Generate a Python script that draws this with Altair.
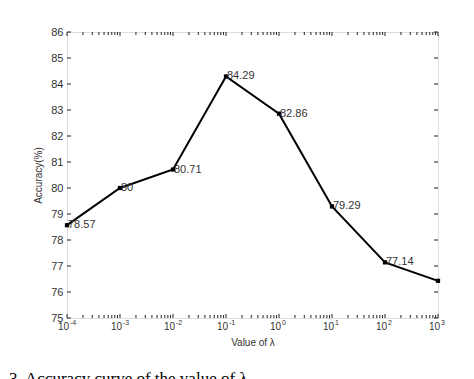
import altair as alt
import pandas as pd

lam = [1e-4, 1e-3, 1e-2, 1e-1, 1e0, 1e1, 1e2, 1e3]
acc = [78.57, 80.0, 80.71, 84.29, 82.86, 79.29, 77.14, 76.43]
point_labels = ["78.57", "80", "80.71", "84.29", "82.86", "79.29", "77.14", ""]
exponents = ["-4", "-3", "-2", "-1", "0", "1", "2", "3"]
y_ticks = list(range(75, 87))
mantissas = [2, 3, 4, 5, 6, 7, 8, 9]

W, H = 371, 286
FONT = "Liberation Sans"
GRAY = "#333333"

df = pd.DataFrame({"lam": lam, "acc": acc, "lab": point_labels})
major = pd.DataFrame({"t": lam, "e": exponents})
minor = pd.DataFrame({"t": [m * d for d in lam[:-1] for m in mantissas]})
yt = pd.DataFrame({"v": y_ticks})

xs = alt.Scale(type="log", domain=[1e-4, 1e3], nice=False)
ys = alt.Scale(domain=[75, 86], nice=False, zero=False)

XAX = alt.Axis(labels=False, ticks=False, domain=False, grid=False,
               title="Value of λ", titlePadding=19, titleFont=FONT,
               titleFontSize=10, titleFontWeight="normal", titleColor=GRAY)
YAX = alt.Axis(values=y_ticks, ticks=False, domain=False, grid=False,
               labelOverlap=False, labelPadding=4, labelFont=FONT,
               labelFontSize=11, labelColor=GRAY,
               title="Accuracy(%)", titlePadding=7, titleFont=FONT,
               titleFontSize=10, titleFontWeight="normal", titleColor=GRAY)


def X(f):
    return alt.X(f, scale=xs, axis=XAX)


def Y(f):
    return alt.Y(f, scale=ys, axis=YAX)


line = alt.Chart(df).mark_line(color="black", strokeWidth=2).encode(
    x=X("lam:Q"), y=Y("acc:Q"))
pts = alt.Chart(df).mark_square(size=18, color="black", opacity=1).encode(
    x=X("lam:Q"), y=Y("acc:Q"))
txt = alt.Chart(df).mark_text(align="left", baseline="middle", dx=1, font=FONT,
                              fontSize=11, color=GRAY).encode(
    x=X("lam:Q"), y=Y("acc:Q"), text="lab:N")


# inward ticks
def xrule(data, y1, y2):
    return alt.Chart(data).mark_rule(color="#222", strokeWidth=1).encode(
        x=X("t:Q"), y=alt.value(y1), y2=alt.value(y2))


def yrule(x1, x2):
    return alt.Chart(yt).mark_rule(color="#222", strokeWidth=1).encode(
        y=Y("v:Q"), x=alt.value(x1), x2=alt.value(x2))


bot_major = xrule(major, H, H - 4)
top_major = xrule(major, 0, 4)
bot_minor = xrule(minor, H, H - 3)
top_minor = xrule(minor, 0, 3)
left_t = yrule(0, 4)
right_t = yrule(W, W - 4)

# x tick labels 10^k
base_lab = alt.Chart(major).mark_text(align="right", baseline="top", dx=2, font=FONT,
                                      fontSize=10, color=GRAY).encode(
    x=X("t:Q"), y=alt.value(H + 4), text=alt.value("10"))
exp_lab = alt.Chart(major).mark_text(align="left", baseline="top", dx=3, font=FONT,
                                     fontSize=7, color=GRAY).encode(
    x=X("t:Q"), y=alt.value(H + 1), text="e:N")

caption = alt.Chart(df.head(1)).mark_text(align="left", baseline="alphabetic",
                                          font="Liberation Serif", fontSize=17,
                                          color="black").encode(
    x=alt.value(-58), y=alt.value(352),
    text=alt.value("3.  Accuracy  curve  of  the value of λ"))

chart = alt.layer(line, bot_minor, top_minor, bot_major, top_major, left_t, right_t,
                  pts, txt, base_lab, exp_lab, caption).properties(
    width=W, height=H,
    autosize=alt.AutoSizeParams(type="none"),
    padding={"left": 59, "top": 24, "right": 28, "bottom": 61},
).configure_view(stroke="#111", strokeWidth=1).configure_axisY(
    labelOverlap=False).configure(background="white")

chart.save("out.html", embed_options={"renderer": "svg", "actions": False})
